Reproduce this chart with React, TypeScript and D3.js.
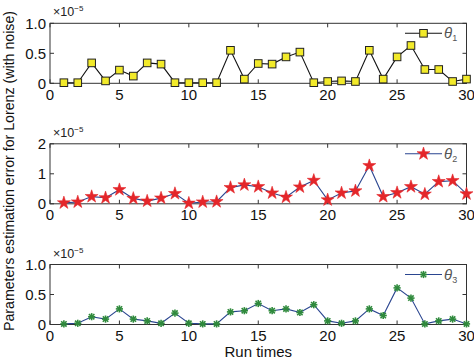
import * as d3 from "d3";
import { useEffect, useRef } from "react";

const runs = d3.range(1, 31);
const theta1 = [0.01, 0.01, 0.34, 0.04, 0.22, 0.12, 0.34, 0.32, 0.01, 0.01, 0.01, 0.01, 0.55, 0.07, 0.33, 0.32, 0.44, 0.52, 0.01, 0.03, 0.04, 0.03, 0.55, 0.07, 0.44, 0.63, 0.23, 0.23, 0.03, 0.07];
const theta2 = [0.03, 0.06, 0.24, 0.2, 0.47, 0.18, 0.09, 0.19, 0.34, 0.02, 0.06, 0.07, 0.54, 0.63, 0.57, 0.36, 0.22, 0.56, 0.78, 0.13, 0.36, 0.43, 1.27, 0.24, 0.37, 0.57, 0.32, 0.74, 0.77, 0.33];
const theta3 = [0.01, 0.02, 0.13, 0.09, 0.26, 0.09, 0.06, 0.02, 0.19, 0.02, 0.01, 0.01, 0.21, 0.23, 0.35, 0.23, 0.26, 0.2, 0.33, 0.06, 0.02, 0.06, 0.26, 0.15, 0.61, 0.44, 0.01, 0.06, 0.09, 0.01];
const xTicks = [0, 5, 10, 15, 20, 25, 30];
const yTicks1 = [0, 0.5, 1];
const yTicks2 = [0, 1, 2];
const yLabels1 = ["0", "0.5", "1.0"];
const yLabels2 = ["0", "1", "2"];

type Panel = {
  values: number[];
  yMax: number;
  ticks: number[];
  labels: string[];
  top: number;
  line: string;
  marker: "square" | "star" | "asterisk";
  sub: string;
};

const panels: Panel[] = [
  { values: theta1, yMax: 1, ticks: yTicks1, labels: yLabels1, top: 23.3, line: "#111", marker: "square", sub: "1" },
  { values: theta2, yMax: 2, ticks: yTicks2, labels: yLabels2, top: 143.8, line: "#2a4590", marker: "star", sub: "2" },
  { values: theta3, yMax: 1, ticks: yTicks1, labels: yLabels1, top: 264.5, line: "#2a4590", marker: "asterisk", sub: "3" },
];

const font = "'Liberation Sans', Arial, sans-serif";

function drawMarker(g: d3.Selection<SVGGElement, unknown, null, undefined>, kind: Panel["marker"], cx: number, cy: number) {
  if (kind === "square") {
    g.append("rect")
      .attr("x", cx - 3.8)
      .attr("y", cy - 3.8)
      .attr("width", 7.6)
      .attr("height", 7.6)
      .attr("fill", "#f2ea2a")
      .attr("stroke", "#222")
      .attr("stroke-width", 1);
  } else if (kind === "star") {
    g.append("path")
      .attr("transform", `translate(${cx},${cy})`)
      .attr("d", d3.symbol(d3.symbolStar, 52)())
      .attr("fill", "#e4262a")
      .attr("stroke", "#e4262a")
      .attr("stroke-width", 0.6);
  } else {
    const r = 3.6;
    const a = g.append("g").attr("transform", `translate(${cx},${cy})`)
      .attr("stroke", "#2f8a3c").attr("stroke-width", 1.6);
    a.append("line").attr("x1", -r).attr("x2", r).attr("y1", 0).attr("y2", 0);
    a.append("line").attr("x1", 0).attr("x2", 0).attr("y1", -r).attr("y2", r);
    const d = r * 0.75;
    a.append("line").attr("x1", -d).attr("x2", d).attr("y1", -d).attr("y2", d);
    a.append("line").attr("x1", -d).attr("x2", d).attr("y1", d).attr("y2", -d);
  }
}

export default function App() {
  const svgRef = useRef<SVGSVGElement | null>(null);

  useEffect(() => {
    const svg = d3.select(svgRef.current);
    svg.selectAll("*").remove();
    const width = 474;
    const height = 363;
    const left = 50;
    const right = 466.5;
    const ph = 60;
    svg.attr("width", width).attr("height", height);

    const x = d3.scaleLinear().domain([0, 30]).range([left, right]);

    panels.forEach((p) => {
      const y = d3.scaleLinear().domain([0, p.yMax]).range([p.top + ph, p.top]);
      const g = svg.append("g");

      // box
      g.append("rect")
        .attr("x", left).attr("y", p.top)
        .attr("width", right - left).attr("height", ph)
        .attr("fill", "#fff").attr("stroke", "#333").attr("stroke-width", 1);

      // ticks (mirrored, inward)
      xTicks.forEach((t) => {
        g.append("line").attr("x1", x(t)).attr("x2", x(t)).attr("y1", p.top + ph).attr("y2", p.top + ph - 4).attr("stroke", "#333");
        g.append("line").attr("x1", x(t)).attr("x2", x(t)).attr("y1", p.top).attr("y2", p.top + 4).attr("stroke", "#333");
        g.append("text")
          .attr("x", x(t)).attr("y", p.top + ph + 16.5)
          .attr("text-anchor", "middle")
          .attr("font-family", font).attr("font-size", 15).attr("fill", "#111")
          .text(t);
      });
      p.ticks.forEach((t, i) => {
        g.append("line").attr("x1", left).attr("x2", left + 4).attr("y1", y(t)).attr("y2", y(t)).attr("stroke", "#333");
        g.append("line").attr("x1", right).attr("x2", right - 4).attr("y1", y(t)).attr("y2", y(t)).attr("stroke", "#333");
        g.append("text")
          .attr("x", left - 4).attr("y", y(t) + 5.2)
          .attr("text-anchor", "end")
          .attr("font-family", font).attr("font-size", 15).attr("fill", "#111")
          .text(p.labels[i]);
      });

      // exponent
      const ex = g.append("text")
        .attr("x", 53).attr("y", p.top - 7)
        .attr("font-family", font).attr("font-size", 12.5).attr("fill", "#222");
      ex.append("tspan").text("\u00d710");
      ex.append("tspan").attr("dy", -5).attr("font-size", 8).text("\u22125");

      // series
      const line = d3.line<number>()
        .x((_, i) => x(runs[i]))
        .y((d) => y(d));
      g.append("path")
        .datum(p.values)
        .attr("fill", "none")
        .attr("stroke", p.line)
        .attr("stroke-width", 1.1)
        .attr("d", line);
      p.values.forEach((v, i) => drawMarker(g, p.marker, x(runs[i]), y(v)));

      // legend
      const ly = p.top + 10;
      g.append("line").attr("x1", 405).attr("x2", 442).attr("y1", ly).attr("y2", ly)
        .attr("stroke", p.line).attr("stroke-width", 1.1);
      drawMarker(g, p.marker, 423.5, ly);
      const lt = g.append("text")
        .attr("x", 444).attr("y", ly + 5)
        .attr("font-family", font).attr("font-size", 15).attr("fill", "#555");
      lt.append("tspan").attr("font-style", "italic").text("\u03b8");
      lt.append("tspan").attr("dy", 3).attr("font-size", 9).text(p.sub);
    });

    svg.append("text")
      .attr("x", (left + right) / 2).attr("y", 357)
      .attr("text-anchor", "middle")
      .attr("font-family", font).attr("font-size", 15).attr("fill", "#111")
      .text("Run times");

    svg.append("text")
      .attr("transform", "translate(14,171) rotate(-90)")
      .attr("text-anchor", "middle")
      .attr("font-family", font).attr("font-size", 14.2).attr("fill", "#111")
      .text("Parameters estimation error for Lorenz (with noise)");
  }, []);

  return <svg ref={svgRef} style={{ position: "absolute", left: 0, top: 0 }}></svg>;
}
